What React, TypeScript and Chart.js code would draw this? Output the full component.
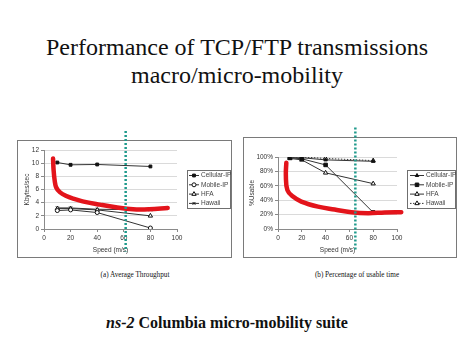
import React, { useEffect, useRef } from "react";
import { Chart, registerables } from "chart.js";
import { drawPoint } from "chart.js/helpers";

Chart.register(...registerables);

// ---------- data ----------
const speeds = [10, 20, 40, 80];
const seriesNames = ["Cellular-IP", "Mobile-IP", "HFA", "Hawaii"];

// (a) Average Throughput (Kbytes/sec)
const thrCellular = [10.1, 9.75, 9.8, 9.5];
const thrMobile = [2.8, 2.9, 2.5, 0.15];
const thrHFA = [3.1, 3.1, 2.9, 2.0];
const thrHawaii = [3.2, 3.2, 3.0, 2.9];
const thrRedX = [6.8, 7.2, 8, 9.2, 11.9, 16.8, 22, 29, 42, 54, 67, 79, 93];
const thrRedY = [10.7, 9.0, 7.4, 6.3, 5.6, 5.0, 4.6, 4.2, 3.7, 3.3, 3.0, 3.0, 3.2];
const thrMarkerX = 61.4;
const thrMarkerY = [14.9, -3.4];
const thrYMax = 12;
const thrYStep = 2;

// (b) Percentage of usable time (%)
const useCellular = [99, 99, 96, 94];
const useMobile = [99, 97.5, 89, 23];
const useHFA = [98, 96, 78, 63];
const useHawaii = [100, 100, 98, 95];
const useRedX = [7, 6.6, 7.9, 12.6, 19.6, 33.6, 47.6, 61.7, 75.6, 89.7, 103.6];
const useRedY = [92, 75, 54, 45, 38, 31, 27, 23.4, 22, 23, 23.4];
const useMarkerX = 65;
const useMarkerY = [141, -31];
const useYMax = 100;
const useYStep = 20;

const xMax = 100;
const xStep = 20;

// ---------- styling ----------
const SANS = "'Liberation Sans', Arial, sans-serif";
const SERIF = "'Liberation Serif', 'Times New Roman', serif";
const LINE = "#333333";
const RED = "#e3141b";
const TEAL = "#1f9a8c";

const pts = (xs: number[], ys: number[]) => xs.map((x, i) => ({ x, y: ys[i] }));

type Style = { pointStyle: string; radius: number; filled: boolean; dash?: number[] };

function seriesDataset(name: string, ys: number[], st: Style) {
  return {
    label: name,
    legendEntry: true,
    data: pts(speeds, ys),
    borderColor: LINE,
    borderWidth: 1,
    borderDash: st.dash || [],
    pointStyle: st.pointStyle,
    pointRadius: st.radius,
    pointBorderWidth: 1,
    pointBorderColor: "#111",
    pointBackgroundColor: st.filled ? "#111" : "#ffffff",
    tension: 0,
    order: 3,
  };
}

const legendBoxPlugin = {
  id: "boxLegend",
  afterDraw(chart: any, _args: any, opts: any) {
    const { ctx } = chart;
    const [bx, by, bw, bh] = opts.box;
    ctx.save();
    ctx.fillStyle = "#ffffff";
    ctx.fillRect(bx, by, bw, bh);
    ctx.strokeStyle = "#6f6f6f";
    ctx.lineWidth = 1;
    ctx.strokeRect(bx + 0.5, by + 0.5, bw, bh);
    const items = chart.data.datasets.filter((d: any) => d.legendEntry);
    items.forEach((d: any, i: number) => {
      const y = by + opts.firstY + i * opts.rowH;
      const x0 = bx + opts.lineX0;
      const x1 = bx + opts.lineX1;
      ctx.strokeStyle = d.borderColor;
      ctx.lineWidth = 1;
      ctx.setLineDash(d.borderDash || []);
      ctx.beginPath();
      ctx.moveTo(x0, y + 0.5);
      ctx.lineTo(x1, y + 0.5);
      ctx.stroke();
      ctx.setLineDash([]);
      ctx.fillStyle = d.pointBackgroundColor;
      ctx.strokeStyle = d.pointBorderColor;
      drawPoint(ctx, { pointStyle: d.pointStyle, radius: d.pointRadius, borderWidth: 1, rotation: 0 }, (x0 + x1) / 2, y + 0.5);
      ctx.fillStyle = "#444";
      ctx.font = `6.5px ${SANS}`;
      ctx.textBaseline = "middle";
      ctx.textAlign = "left";
      ctx.fillText(d.label, bx + opts.textX, y + 0.5);
    });
    ctx.restore();
  },
};

function makeConfig(p: {
  datasets: any[];
  yMax: number;
  yStep: number;
  yTitle: string;
  pct: boolean;
  padding: any;
  yWidth: number;
  legend: any;
}) {
  const tickFont = { family: SANS, size: 6.5 };
  return {
    type: "line",
    data: { datasets: p.datasets },
    options: {
      animation: false,
      responsive: false,
      maintainAspectRatio: false,
      events: [],
      layout: { padding: p.padding },
      plugins: {
        legend: { display: false },
        tooltip: { enabled: false },
        boxLegend: p.legend,
      },
      scales: {
        x: {
          type: "linear",
          min: 0,
          max: xMax,
          ticks: { stepSize: xStep, font: tickFont, color: "#333", padding: 2, maxRotation: 0 },
          grid: { drawOnChartArea: false, color: "#888", tickLength: 3 },
          border: { color: "#8a8a8a", width: 1 },
          title: { display: true, text: "Speed (m/s)", font: tickFont, color: "#333", padding: { top: 1, bottom: 0 } },
          afterFit: (s: any) => {
            s.height = 25;
          },
        },
        y: {
          type: "linear",
          min: 0,
          max: p.yMax,
          ticks: {
            stepSize: p.yStep,
            font: tickFont,
            color: "#333",
            padding: 2,
            callback: (v: any) => (p.pct ? `${v}%` : `${v}`),
          },
          grid: { color: "#dadada", tickColor: "#888", tickLength: 3 },
          border: { color: "#8a8a8a", width: 1 },
          title: { display: true, text: p.yTitle, font: tickFont, color: "#333", padding: { top: 2, bottom: 2 } },
          afterFit: (s: any) => {
            s.width = p.yWidth;
          },
        },
      },
    },
    plugins: [legendBoxPlugin],
  };
}

function ChartCanvas({ config, left, top, width, height }: any) {
  const ref = useRef<HTMLCanvasElement>(null);
  useEffect(() => {
    const chart = new Chart(ref.current as HTMLCanvasElement, config());
    return () => chart.destroy();
  }, []);
  return (
    <canvas
      ref={ref}
      width={width}
      height={height}
      style={{ position: "absolute", left, top, width, height }}
    />
  );
}

const thrConfig = () =>
  makeConfig({
    yMax: thrYMax,
    yStep: thrYStep,
    yTitle: "Kbytes/sec",
    pct: false,
    padding: { left: 21, top: 30, right: 60, bottom: 11 },
    yWidth: 23,
    legend: { box: [187, 50, 43, 38], firstY: 5, rowH: 9.3, lineX0: 2, lineX1: 12, textX: 14 },
    datasets: [
      {
        label: "marker",
        data: [
          { x: thrMarkerX, y: thrMarkerY[0] },
          { x: thrMarkerX, y: thrMarkerY[1] },
        ],
        borderColor: TEAL,
        borderWidth: 2.5,
        borderDash: [2, 2],
        borderCapStyle: "butt",
        pointRadius: 0,
        clip: false,
        order: 1,
      },
      {
        label: "trend",
        data: pts(thrRedX, thrRedY),
        borderColor: RED,
        borderWidth: 4.5,
        borderCapStyle: "round",
        pointRadius: 0,
        tension: 0.4,
        clip: false,
        order: 2,
      },
      seriesDataset(seriesNames[0], thrCellular, { pointStyle: "rect", radius: 2, filled: true }),
      seriesDataset(seriesNames[1], thrMobile, { pointStyle: "circle", radius: 2, filled: false }),
      seriesDataset(seriesNames[2], thrHFA, { pointStyle: "triangle", radius: 2.5, filled: false }),
      seriesDataset(seriesNames[3], thrHawaii, { pointStyle: "crossRot", radius: 2, filled: false }),
    ],
  });

const useConfig = () =>
  makeConfig({
    yMax: useYMax,
    yStep: useYStep,
    yTitle: "%Usable",
    pct: true,
    padding: { left: 9, top: 37, right: 77, bottom: 11 },
    yWidth: 32,
    legend: { box: [170, 50, 48, 38], firstY: 5, rowH: 9.3, lineX0: 3, lineX1: 17, textX: 19 },
    datasets: [
      {
        label: "marker",
        data: [
          { x: useMarkerX, y: useMarkerY[0] },
          { x: useMarkerX, y: useMarkerY[1] },
        ],
        borderColor: TEAL,
        borderWidth: 2.5,
        borderDash: [2, 2],
        borderCapStyle: "butt",
        pointRadius: 0,
        clip: false,
        order: 1,
      },
      {
        label: "trend",
        data: pts(useRedX, useRedY),
        borderColor: RED,
        borderWidth: 4.5,
        borderCapStyle: "round",
        pointRadius: 0,
        tension: 0.4,
        clip: false,
        order: 2,
      },
      seriesDataset(seriesNames[0], useCellular, { pointStyle: "triangle", radius: 2, filled: true }),
      seriesDataset(seriesNames[1], useMobile, { pointStyle: "rect", radius: 2.5, filled: true }),
      seriesDataset(seriesNames[2], useHFA, { pointStyle: "triangle", radius: 2.5, filled: false }),
      seriesDataset(seriesNames[3], useHawaii, { pointStyle: "triangle", radius: 2.5, filled: false, dash: [1.5, 1.5] }),
    ],
  });

export default function App() {
  return (
    <div
      style={{
        position: "absolute",
        left: 0,
        top: 0,
        width: 474,
        height: 355,
        background: "#ffffff",
        overflow: "hidden",
        fontFamily: SERIF,
        color: "#111",
      }}
    >
      <div
        style={{
          position: "absolute",
          left: 0,
          top: 33,
          width: 474,
          textAlign: "center",
          fontFamily: SERIF,
          fontSize: 24,
          lineHeight: "28.3px",
        }}
      >
        Performance of TCP/FTP transmissions
        <br />
        macro/micro-mobility
      </div>

      <div style={{ position: "absolute", left: 17, top: 140, width: 213, height: 116, border: "1.5px solid #7a7a7a" }} />
      <div style={{ position: "absolute", left: 243, top: 137, width: 212, height: 119, border: "1.5px solid #7a7a7a" }} />

      <ChartCanvas config={thrConfig} left={0} top={120} width={237} height={145} />
      <ChartCanvas config={useConfig} left={237} top={120} width={237} height={145} />

      <div style={{ position: "absolute", left: 0, top: 271, width: 270, textAlign: "center", fontFamily: SERIF, fontSize: 7.2, lineHeight: "9px" }}>
        (a) Average Throughput
      </div>
      <div style={{ position: "absolute", left: 237, top: 271, width: 240, textAlign: "center", fontFamily: SERIF, fontSize: 7.2, lineHeight: "9px" }}>
        (b) Percentage of usable time
      </div>

      <div
        style={{
          position: "absolute",
          left: 0,
          top: 314,
          width: 454,
          textAlign: "center",
          fontFamily: SERIF,
          fontSize: 16,
          fontWeight: "bold",
          lineHeight: "18px",
        }}
      >
        <i>ns-2</i> Columbia micro-mobility suite
      </div>
    </div>
  );
}
